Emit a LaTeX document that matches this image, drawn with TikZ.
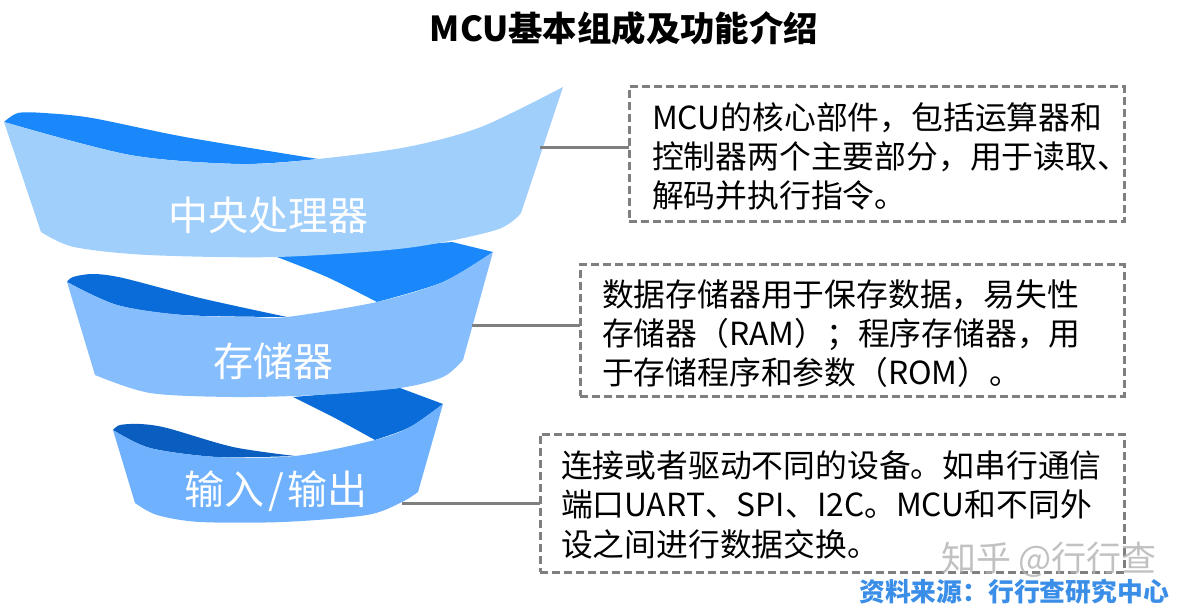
\documentclass[tikz,border=0pt]{standalone}
\usepackage{fontspec}
\usepackage{xcolor}
\setmainfont{Noto Sans CJK SC}
\usetikzlibrary{calc}
\definecolor{ribbonA}{HTML}{A0CFFC}
\definecolor{ribbonB}{HTML}{86BDFC}
\definecolor{ribbonC}{HTML}{6FB1FC}
\definecolor{backA}{HTML}{1A88FA}
\definecolor{backB}{HTML}{0A6CD8}
\definecolor{backC}{HTML}{0A5EC0}
\definecolor{linegray}{HTML}{7F7F7F}
\definecolor{srcblue}{HTML}{3A8EE8}
\tikzset{
  infobox/.style={draw=linegray,line width=3pt,dash pattern=on 8pt off 4pt,align=left,anchor=north west,inner sep=0pt,outer sep=0pt,font=\fontsize{31.8}{39.3}\selectfont},
  ribbonlabel/.style={text=white,font=\fontsize{40}{40}\selectfont},
  leader/.style={draw=linegray,line width=3pt}
}
\begin{document}
\begin{tikzpicture}[x=1pt,y=-1pt]
\useasboundingbox (0,0) rectangle (1185,609);
\node[font=\fontsize{34.4}{34}\selectfont\bfseries] (title) at (624,28) {MCU基本组成及功能介绍};
% bottom ribbon
\fill[backB] plot[smooth] coordinates {(293,397) (333,417) (375,440)}
  -- plot[smooth] coordinates {(375,440) (410,427) (443,404)}
  -- (400,388) -- cycle;
\fill[backC] plot[smooth] coordinates {(113,430) (120,425) (140,424) (167,428) (233,447) (295,456)}
  -- plot[smooth] coordinates {(295,456) (217,457) (150,448) (113,430)} -- cycle;
\fill[ribbonC] plot[smooth] coordinates {(113,430) (150,448) (217,457) (295,456) (375,440) (410,427) (443,404)}
  -- (418,492)
  -- plot[smooth] coordinates {(418,492) (402,502) (367,515) (283,522) (200,522) (157,515) (135,503)} -- cycle;
% middle ribbon
\fill[backA] plot[smooth] coordinates {(277,257) (327,277) (377,302)}
  -- plot[smooth] coordinates {(377,302) (443,282) (493,252)}
  -- (452,242) -- cycle;
\fill[backB] plot[smooth] coordinates {(67,282) (73,277) (93,274) (123,278) (200,298) (287,317)}
  -- plot[smooth] coordinates {(287,317) (183,315) (117,305) (67,282)} -- cycle;
\fill[ribbonB] plot[smooth] coordinates {(67,282) (117,305) (183,315) (250,317) (287,317) (377,302) (443,282) (493,252)}
  -- (463,360)
  -- plot[smooth] coordinates {(463,360) (443,377) (400,388) (317,395) (233,397) (150,393) (95,375)} -- cycle;
% top ribbon
\fill[backA] plot[smooth] coordinates {(4,122) (18,113) (44,113) (92,118) (185,137) (318,159)}
  -- plot[smooth] coordinates {(318,159) (240,164) (130,155) (4,122)} -- cycle;
\fill[ribbonA] plot[smooth] coordinates {(4,122) (130,155) (240,164) (318,159) (407,147) (481,127) (563,87)}
  -- (521,213)
  -- plot[smooth] coordinates {(521,213) (496,230) (407,248) (277,257) (148,255) (74,247) (41,232)} -- cycle;
\node[ribbonlabel] (cpu) at (268,215) {中央处理器};
\node[ribbonlabel] (mem) at (273,361) {存储器};
\node[ribbonlabel] (io) at (276,491) {输入\hspace{4pt}/\hspace{4pt}输出};
% boxes
\node[infobox,minimum height=135pt,text width=495pt] (boxcpu) at (629,87)
  {\rule{0pt}{30.5pt}\hspace*{23pt}MCU的核心部件，包括运算器和\\\hspace*{23pt}控制器两个主要部分，用于读取、\\\hspace*{23pt}解码并执行指令。};
\node[infobox,minimum height=131pt,text width=544pt] (boxmem) at (580,265)
  {\rule{0pt}{33pt}\hspace*{22pt}数据存储器用于保存数据，易失性\\\hspace*{22pt}存储器（RAM）；程序存储器，用\\\hspace*{22pt}于存储程序和参数（ROM）。};
\node[infobox,minimum height=138pt,text width=584pt] (boxio) at (540,434)
  {\rule{0pt}{30.5pt}\hspace*{21pt}连接或者驱动不同的设备。如串行通信\\\hspace*{21pt}端口UART、SPI、I2C。MCU和不同外\\\hspace*{21pt}设之间进行数据交换。};
% leaders
\coordinate (lcpu) at (540,148);
\coordinate (lmem) at (472,326);
\coordinate (lio) at (402,503);
\draw[leader] (lcpu) -- (lcpu -| boxcpu.west);
\draw[leader] (lmem) -- (lmem -| boxmem.west);
\draw[leader] (lio) -- (lio -| boxio.west);
% footer
\node[text=black!30,opacity=.8,font=\fontsize{35}{35}\selectfont] (mark) at (1049,560) {知乎 @行行查};
\node[text=srcblue,font=\fontsize{25.8}{26}\selectfont\bfseries] (source) at (1014,592) {资料来源：行行查研究中心};
\end{tikzpicture}
\end{document}
